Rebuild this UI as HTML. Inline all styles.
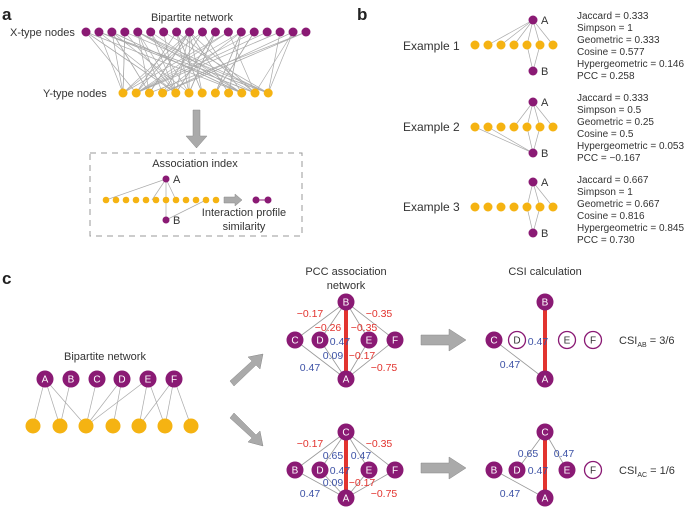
<!DOCTYPE html>
<html><head><meta charset="utf-8"><style>
html,body{margin:0;padding:0;background:#fff;}
svg{display:block;font-family:"Liberation Sans",sans-serif;}
.t{font-size:11px;fill:#333;}
.bt{font-size:10px;fill:#333;}
.e{stroke:#aaa;stroke-width:0.7;fill:none;}
.r{fill:#e2342f;font-size:10.5px;}
.b{fill:#3d52a6;font-size:10.5px;}
.p{fill:#8a1a74;}
.y{fill:#f5b312;}
.w{fill:#fff;font-size:10px;text-anchor:middle;}
</style></head><body>
<svg width="685" height="518" viewBox="0 0 685 518">
<text x="2" y="20" font-size="17" font-weight="bold" fill="#222">a</text>
<text x="357" y="20" font-size="17" font-weight="bold" fill="#222">b</text>
<text x="2" y="284" font-size="17" font-weight="bold" fill="#222">c</text>

<!-- Panel a -->
<text class="t" x="192" y="21" text-anchor="middle" font-size="12">Bipartite network</text>
<text class="t" x="10" y="36" font-size="12">X-type nodes</text>
<text class="t" x="43" y="97" font-size="12">Y-type nodes</text>
<g id="aedges" class="e"></g>
<g id="anodes"></g>
<polygon points="193,110 200,110 200,136 207,136 196.5,148 186,136 193,136" fill="#aaa" stroke="#888" stroke-width="0.5"/>
<rect x="90" y="153" width="212" height="83" fill="none" stroke="#999" stroke-width="1" stroke-dasharray="6,5"/>
<text class="t" x="195" y="167" text-anchor="middle" font-size="12">Association index</text>
<g class="e">
<line x1="166" y1="179" x2="106" y2="200"/><line x1="166" y1="179" x2="152" y2="200"/>
<line x1="166" y1="179" x2="166" y2="200"/><line x1="166" y1="179" x2="176" y2="200"/>
<line x1="166" y1="220" x2="166" y2="200"/><line x1="166" y1="220" x2="206" y2="200"/>
<line x1="256" y1="200" x2="268" y2="200" stroke="#8a1a74" stroke-width="1"/>
</g>
<g class="y" id="arow"></g>
<circle class="p" cx="166" cy="179" r="3.5"/><circle class="p" cx="166" cy="220" r="3.5"/>
<circle class="p" cx="256" cy="200" r="3.5"/><circle class="p" cx="268" cy="200" r="3.5"/>
<text class="t" x="173" y="183">A</text><text class="t" x="173" y="224">B</text>
<polygon points="224,197 235,197 235,194 242,200 235,206 235,203 224,203" fill="#aaa" stroke="#888" stroke-width="0.5"/>
<text class="t" x="244" y="216" text-anchor="middle" font-size="12">Interaction profile</text>
<text class="t" x="244" y="230" text-anchor="middle" font-size="12">similarity</text>

<!-- Panel b -->
<g id="bpanel"></g>
<g class="bt">
<text x="577" y="19">Jaccard = 0.333</text><text x="577" y="31">Simpson = 1</text><text x="577" y="43">Geometric = 0.333</text><text x="577" y="55">Cosine = 0.577</text><text x="577" y="67">Hypergeometric = 0.146</text><text x="577" y="79">PCC = 0.258</text>
<text x="577" y="101">Jaccard = 0.333</text><text x="577" y="113">Simpson = 0.5</text><text x="577" y="125">Geometric = 0.25</text><text x="577" y="137">Cosine = 0.5</text><text x="577" y="149">Hypergeometric = 0.053</text><text x="577" y="161">PCC = −0.167</text>
<text x="577" y="183">Jaccard = 0.667</text><text x="577" y="195">Simpson = 1</text><text x="577" y="207">Geometric = 0.667</text><text x="577" y="219">Cosine = 0.816</text><text x="577" y="231">Hypergeometric = 0.845</text><text x="577" y="243">PCC = 0.730</text>
</g>
<g class="t">
<text x="403" y="50" font-size="12">Example 1</text><text x="403" y="131" font-size="12">Example 2</text><text x="403" y="211" font-size="12">Example 3</text>
</g>

<!-- Panel c bipartite -->
<text class="t" x="105" y="360" text-anchor="middle" font-size="12">Bipartite network</text>
<g class="e" stroke="#999">
<line x1="45" y1="379" x2="33" y2="426"/><line x1="45" y1="379" x2="60" y2="426"/><line x1="45" y1="379" x2="86" y2="426"/>
<line x1="71" y1="379" x2="60" y2="426"/><line x1="97" y1="379" x2="86" y2="426"/>
<line x1="122" y1="379" x2="86" y2="426"/><line x1="122" y1="379" x2="113" y2="426"/>
<line x1="148" y1="379" x2="86" y2="426"/><line x1="148" y1="379" x2="139" y2="426"/><line x1="148" y1="379" x2="165" y2="426"/>
<line x1="174" y1="379" x2="139" y2="426"/><line x1="174" y1="379" x2="165" y2="426"/><line x1="174" y1="379" x2="191" y2="426"/>
</g>
<g class="y"><circle cx="33" cy="426" r="7.5"/><circle cx="60" cy="426" r="7.5"/><circle cx="86" cy="426" r="7.5"/><circle cx="113" cy="426" r="7.5"/><circle cx="139" cy="426" r="7.5"/><circle cx="165" cy="426" r="7.5"/><circle cx="191" cy="426" r="7.5"/></g>
<g id="cbip"></g>
<polygon points="230,381 252,361 248,357 263,354 260,369 256,365 234,386" fill="#aaa" stroke="#888" stroke-width="0.5"/>
<polygon points="230,418 252,438 248,442 263,446 260,431 256,435 234,413" fill="#aaa" stroke="#888" stroke-width="0.5"/>

<text class="t" x="346" y="275" text-anchor="middle" font-size="12">PCC association</text>
<text class="t" x="346" y="289" text-anchor="middle" font-size="12">network</text>
<text class="t" x="545" y="275" text-anchor="middle" font-size="12">CSI calculation</text>
<polygon points="421,335 449,335 449,329 466,340 449,351 449,345 421,345" fill="#aaa" stroke="#888" stroke-width="0.5"/>
<polygon points="421,463 449,463 449,457 466,468 449,479 449,473 421,473" fill="#aaa" stroke="#888" stroke-width="0.5"/>
<text class="t" x="619" y="344">CSI<tspan font-size="7" dy="3">AB</tspan><tspan dy="-3"> = 3/6</tspan></text>
<text class="t" x="619" y="474">CSI<tspan font-size="7" dy="3">AC</tspan><tspan dy="-3"> = 1/6</tspan></text>
<g id="cnets"></g>
</svg>
<script>
(function(){
var NS="http://www.w3.org/2000/svg";
function el(p,t,a,txt){var e=document.createElementNS(NS,t);for(var k in a)e.setAttribute(k,a[k]);if(txt!==undefined)e.textContent=txt;p.appendChild(e);return e;}
var ae=document.getElementById('aedges'),an=document.getElementById('anodes');
var xs=[],ys=[];for(var i=0;i<18;i++)xs.push(86+i*12.94);for(var j=0;j<12;j++)ys.push(123+j*13.2);
var s=7;function rnd(){s=(s*9301+49297)%233280;return s/233280;}
for(var k=0;k<75;k++){var i=Math.floor(rnd()*18),j=Math.floor(rnd()*12);el(ae,'line',{x1:xs[i],y1:32,x2:ys[j],y2:93});}
xs.forEach(function(x){el(an,'circle',{cx:x,cy:32,r:4.5,'class':'p'});});
ys.forEach(function(x){el(an,'circle',{cx:x,cy:93,r:4.5,'class':'y'});});
var ar=document.getElementById('arow');for(var j=0;j<12;j++)el(ar,'circle',{cx:106+j*10,cy:200,r:3.3});
var bp=document.getElementById('bpanel');
var ex=[{y:45,a:[2,3,4,5,6,7],b:[5,6]},{y:127,a:[4,5,6,7],b:[1,2,5,6]},{y:207,a:[5,6,7],b:[5,6]}];
ex.forEach(function(E){var ay=E.y-25,by=E.y+26;
E.a.forEach(function(n){el(bp,'line',{x1:533,y1:ay,x2:475+13*(n-1),y2:E.y,'class':'e'});});
E.b.forEach(function(n){el(bp,'line',{x1:533,y1:by,x2:475+13*(n-1),y2:E.y,'class':'e'});});
for(var n=0;n<7;n++)el(bp,'circle',{cx:475+13*n,cy:E.y,r:4.5,'class':'y'});
el(bp,'circle',{cx:533,cy:ay,r:4.5,'class':'p'});el(bp,'circle',{cx:533,cy:by,r:4.5,'class':'p'});
el(bp,'text',{x:541,y:ay+4,'class':'t'},'A');el(bp,'text',{x:541,y:by+4,'class':'t'},'B');});
var cb=document.getElementById('cbip');
function node(p,x,y,L,filled){el(p,'circle',{cx:x,cy:y,r:8.5,fill:filled?'#8a1a74':'#fff',stroke:'#8a1a74','stroke-width':filled?0:1.3});
el(p,'text',{x:x,y:y+3.6,'class':'w',style:filled?'':'fill:#333'},L);}
['A','B','C','D','E','F'].forEach(function(L,i){var x=[45,71,97,122,148,174][i];node(cb,x,379,L,true);});
var cn=document.getElementById('cnets');
function ln(x1,y1,x2,y2){el(cn,'line',{x1:x1,y1:y1,x2:x2,y2:y2,stroke:'#999','stroke-width':0.8});}
function red(x1,y1,x2,y2){el(cn,'line',{x1:x1,y1:y1,x2:x2,y2:y2,stroke:'#e2342f','stroke-width':4});}
function tx(x,y,c,s){el(cn,'text',{x:x,y:y+4,'class':c,'text-anchor':'middle'},s);}
var T=302,M=340,Bt=379;
[295,320,369,395].forEach(function(x){ln(346,T,x,M);ln(346,Bt,x,M);});
red(346,T,346,Bt);
node(cn,346,T,'B',1);node(cn,295,M,'C',1);node(cn,320,M,'D',1);node(cn,369,M,'E',1);node(cn,395,M,'F',1);node(cn,346,Bt,'A',1);
tx(310,313,'r','−0.17');tx(328,327,'r','−0.26');tx(379,313,'r','−0.35');tx(364,327,'r','−0.35');
tx(340,341,'b','0.47');tx(333,355,'b','0.09');tx(310,367,'b','0.47');tx(362,355,'r','−0.17');tx(384,367,'r','−0.75');
var T2=432,M2=470,B2=498;
[295,320,369,395].forEach(function(x){ln(346,T2,x,M2);ln(346,B2,x,M2);});
red(346,T2,346,B2);
node(cn,346,T2,'C',1);node(cn,295,M2,'B',1);node(cn,320,M2,'D',1);node(cn,369,M2,'E',1);node(cn,395,M2,'F',1);node(cn,346,B2,'A',1);
tx(310,443,'r','−0.17');tx(333,455,'b','0.65');tx(379,443,'r','−0.35');tx(361,455,'b','0.47');
tx(340,470,'b','0.47');tx(333,482,'b','0.09');tx(362,482,'r','−0.17');tx(310,493,'b','0.47');tx(384,493,'r','−0.75');
ln(494,M,545,Bt);red(545,T,545,Bt);
node(cn,545,T,'B',1);node(cn,494,M,'C',1);node(cn,517,M,'D',0);node(cn,567,M,'E',0);node(cn,593,M,'F',0);node(cn,545,Bt,'A',1);
tx(538,341,'b','0.47');tx(510,364,'b','0.47');
ln(545,T2,517,M2);ln(545,T2,567,M2);ln(494,M2,545,B2);red(545,T2,545,B2);
node(cn,545,T2,'C',1);node(cn,494,M2,'B',1);node(cn,517,M2,'D',1);node(cn,567,M2,'E',1);node(cn,593,M2,'F',0);node(cn,545,B2,'A',1);
tx(538,470,'b','0.47');tx(528,453,'b','0.65');tx(564,453,'b','0.47');tx(510,493,'b','0.47');
})();
</script>
</body></html>
